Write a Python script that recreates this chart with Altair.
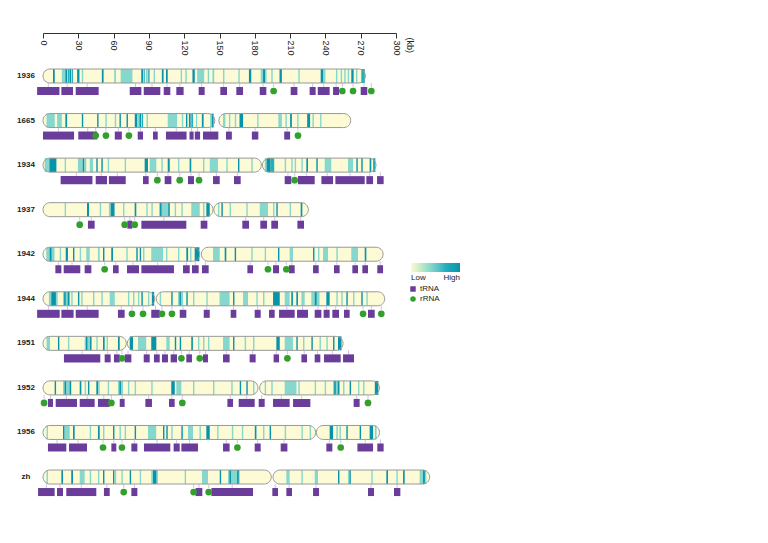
import altair as alt
import pandas as pd

rows = ['1936', '1665', '1934', '1937', '1942', '1944', '1951', '1952', '1956', 'zh']
axis_ticks = [0, 30, 60, 90, 120, 150, 180, 210, 240, 270, 300]

# chromosome segments (start kb, end kb)
seg_1936 = [(0, 274)]
seg_1665 = [(0, 146), (149.5, 261.5)]
seg_1934 = [(0, 185.6), (186.5, 283)]
seg_1937 = [(0, 144.5), (145.2, 225.5)]
seg_1942 = [(0, 133.2), (134.6, 289)]
seg_1944 = [(0, 95), (96.3, 290.4)]
seg_1951 = [(0, 70.8), (71.7, 255)]
seg_1952 = [(0, 182.7), (184.1, 286)]
seg_1956 = [(0, 231.7), (232.3, 286)]
seg_zh = [(0, 194), (195.5, 328.6)]

L, M, D = 0.4, 0.7, 1.0
# density bands (start kb, width kb, level)
bands_1936 = [(8.5,1.5,D),(16,3,L),(19,1.5,D),(21,1.2,M),(22.5,1.5,D),(24.5,1,M),(29,2,D),(33,1.2,L),(50,1.5,D),(60.5,1.5,L),(66,10,L),(83.5,1.5,D),(85.5,1,M),(87.5,1.5,L),(89.5,1,D),(94,1.2,L),(101,1.5,D),(104.5,1.5,D),(117,1.2,L),(121,1.2,L),(127,2,D),(131,6,L),(140,1.2,L),(144,1.5,L),(153,1.2,L),(166,1.2,L),(175,2,D),(185,2,L),(187,2,D),(189,1,L),(194,1.2,L),(201,2,D),(217,1.2,L),(236,2,D),(238,2,L),(249,1.2,L),(253,1.2,L),(256,1.2,L),(259,1.2,L),(262,2,D),(266,1.2,L),(270.5,3,M)]
bands_1665 = [(3,7,L),(12,4,L),(19,1.5,D),(33,1.2,D),(46,1.2,D),(53,1.2,L),(61,1.2,L),(65,1.2,D),(71,1.2,D),(78,2,D),(80,2,L),(82,1.5,D),(84,1,M),(88,1.2,L),(106,8,L),(118,1.2,L),(121.5,1.2,D),(124,1.5,D),(126,1.5,M),(130,1,L),(135,1.5,D),(142,1.5,L),(143.5,1.5,D),(153,2,L),(158,1.2,L),(163,1.2,L),(167,3,D),(182,1.2,L),(200,3,L),(206,1.2,L),(210,1.5,D),(216,1.2,L),(224.5,2.5,D),(229,1.2,L),(235.5,1.2,L)]
bands_1934 = [(1.4,4,L),(5.4,6,D),(18.4,1.2,L),(29.7,4,L),(33.7,1.5,D),(35.2,1.6,L),(39.7,2.8,L),(45.3,1.2,D),(49.6,1.2,D),(55,1.2,L),(69.4,1.2,L),(86.4,2.8,D),(90.7,5.6,L),(100.6,1.2,L),(106,1.7,D),(114.7,1.2,L),(124.6,1.4,D),(136,1.2,L),(141.7,7,L),(155.8,1.2,L),(165.7,1.2,D),(177,1.2,L),(188.5,1.5,L),(190,3.5,D),(193.5,3,M),(205.4,1.2,L),(211,1.2,L),(213.9,1.2,L),(219.6,1.2,L),(223.8,1.4,D),(232.3,1.2,D),(239.4,5.6,L),(259.2,4.3,L),(266.3,1.2,D),(270.5,1.2,D),(277.6,1.4,D),(280.5,2,M)]
bands_1937 = [(18.4,1.2,L),(37.4,1.7,D),(48.2,1.2,L),(56,1.5,L),(57.5,3.3,D),(68,1.2,L),(77.9,1.4,D),(87.8,1.2,L),(92.1,1.2,L),(98.6,9,L),(99.5,1.2,D),(106.5,1.2,D),(111.9,1.2,L),(117.6,1.2,L),(126,7.2,L),(136,1.2,L),(138.8,2.9,D),(148.7,1.2,L),(151.6,1.2,D),(158.6,1.2,L),(172.8,1.2,L),(184.2,7,L),(195.5,1.2,L),(198.3,1.2,D),(209.6,1.2,L),(219,1.4,D)]
bands_1942 = [(2.8,7,L),(5.7,1.5,D),(14.2,1.2,L),(19.3,1.9,D),(25.5,1.2,D),(31.2,1.2,L),(36.8,2.9,L),(46.7,1.5,L),(51,1.2,D),(58,1.5,D),(70.8,1.2,L),(79.3,1.2,D),(82.2,1.2,D),(85,1.2,L),(92,10,L),(104.5,1.2,L),(114.7,1.2,L),(121.8,1.5,D),(125,1.2,L),(128.9,4,D),(144.5,5.7,L),(154.4,1.4,D),(162.9,1.2,D),(177,1.2,L),(188.4,1.2,L),(199.7,1.2,D),(209.6,2.9,L),(229.5,1.2,D),(233.7,1.2,L),(238,4.2,L),(249.3,1.2,L),(262,5.7,L),(273.4,1.4,D)]
bands_1944 = [(5,2,L),(7,4,D),(11,1.5,L),(17,6,L),(18,1.3,D),(21,1.3,D),(24,1.2,L),(29.7,1.2,D),(32.5,1.2,L),(42.5,1.2,L),(49.6,1.2,L),(56.7,4.3,L),(72.2,1.2,L),(76.5,1.2,L),(80.7,1.2,L),(83.6,1.2,D),(89.2,1.2,L),(92.5,2,D),(99.2,1.2,L),(109,1.2,D),(114.7,4.3,L),(116,1.2,D),(121.8,1.2,D),(127.5,1.2,L),(138.8,1.2,L),(150,8.6,L),(161.5,1.2,D),(170,4.2,L),(181.3,1.2,L),(187,1.2,L),(195.5,5.7,D),(205.4,4.2,L),(211,1.4,D),(215.3,1.4,D),(219.6,2.8,L),(228,7,L),(231,1.5,D),(240.8,2.8,D),(249.3,1.2,L),(253.5,1.2,L),(257.8,1.2,D),(263.5,1.2,L),(270.5,1.2,D),(274.8,1.2,L)]
bands_1951 = [(3,3,L),(12.7,1.2,D),(21.2,1.2,L),(35.4,5.7,L),(36.5,1.2,D),(40,1.2,D),(45.3,1.2,L),(51,1.4,D),(54,1.2,L),(63.7,1.5,D),(73.7,2.8,D),(80.7,7,L),(92,4.3,D),(104.8,2.9,L),(112,1.2,D),(116.2,1.2,D),(126,1.4,D),(131.7,1.2,L),(136,1.2,L),(140.2,1.2,L),(153,5.6,L),(161.5,1.2,D),(171.4,1.2,L),(178.5,1.2,L),(198.3,2.9,D),(205.4,7,L),(215.3,1.2,D),(221,1.2,L),(228.1,1.2,D),(235,1.2,L),(240.8,1.2,L),(246.5,1.2,D),(250.7,3,D)]
bands_1952 = [(9.9,1.2,D),(17,7,L),(18.4,1.2,D),(22.7,1.2,D),(31.2,1.4,D),(35.4,1.2,L),(38.2,1.2,D),(45.3,1.5,D),(46.8,1.4,L),(55,1.2,L),(63.7,4.3,L),(65,1.2,D),(72.2,1.2,L),(77.9,1.2,L),(92,1.2,L),(109,3,D),(113.3,4.3,L),(127.5,1.2,L),(144.5,1.2,L),(160,1.2,L),(167.2,1.2,D),(172.8,1.2,D),(178.5,1.2,L),(188.4,1.2,L),(194,1.2,L),(205.4,10,L),(217,1.2,L),(230.9,1.2,L),(239.4,1.2,L),(246.5,5.6,L),(247.5,1.3,D),(250.5,1.3,D),(255,1.2,L),(260.6,1.2,D),(267.7,1.2,L),(272,1.2,L),(282,3,D)]
bands_1956 = [(3,1.2,L),(17,1.4,D),(18.4,4.3,L),(25.5,1.4,D),(39.7,1.2,L),(46.7,1.5,D),(51,1.2,L),(59.5,1.2,D),(65,1.2,L),(69.4,1.2,L),(77.9,1.2,D),(89.2,7,L),(102,1.2,D),(104.8,1.2,D),(109,1.2,L),(117.6,1.2,D),(123.2,4.3,L),(133,1.2,L),(138.8,2.9,D),(148,1.2,L),(160.5,1.2,L),(169,1.2,L),(180,1.4,D),(187,1.2,L),(192.6,1.2,D),(205.4,1.2,L),(219.6,1.2,L),(226.6,1.2,L),(243.6,2.9,D),(249.3,1.2,L),(252,1.2,L),(257.8,1.2,D),(269.1,1.2,D),(277.6,2.9,D),(282,1.5,L)]
bands_zh = [(3,1.2,L),(15.6,1.4,D),(24,1.5,D),(31.2,4.2,L),(39.7,1.2,L),(46.7,1.2,L),(51,1.2,D),(59.5,1.2,D),(61,1.2,L),(66.6,1.2,L),(73.7,1.2,D),(82.2,1.2,L),(92,5.7,L),(93.5,2.8,D),(120.4,1.2,L),(135.1,5.1,L),(150.2,1.2,D),(157.2,10,L),(158.5,1.3,D),(165,1.3,D),(206.8,2.8,L),(219.6,1.2,L),(230.9,2.8,L),(250.7,1.2,D),(259.2,1.2,L),(260.4,1.2,D),(279,1.2,L),(291.8,1.4,D),(300.3,1.2,L),(306,1.4,D),(320.1,5.7,L),(323,1.5,D)]

# tRNA genes / clusters (start kb, end kb)
trna_1936 = [(-5,14),(15.6,25.5),(27.8,47.3),(73.7,83.6),(85.6,99.7),(102.6,108.2),(113.3,119.5),(132.3,137.4),(150.7,156.4),(164.3,170),(184.2,189.8),(210.5,216.2),(226.6,231.7),(233.5,243.6),(246.5,251.6),(270,275.6)]
trna_1665 = [(0,26.4),(30,46),(61,67),(80.5,85),(93.5,97.5),(104.5,122),(124.5,128),(129,133.5),(136,149),(155.5,160.5),(177.5,183),(205,210)]
trna_1934 = [(15,42),(44.8,54.4),(56,70.3),(85,89.8),(103.4,109.1),(123.2,128.3),(144.5,150.2),(162.3,168),(205.4,211),(216.7,230.9),(236.6,246.5),(248.5,273.4),(274.8,280.5),(283.9,289.5)]
trna_1937 = [(38.2,43.9),(71.7,75.9),(83.6,121.8),(134,139.7),(169.4,175.1),(184.7,190.4),(194,199.7),(216.2,221.8)]
trna_1942 = [(10.5,15.6),(17.6,31.7),(35.4,41.1),(59.5,64.3),(71.4,81.6),(83.6,111.3),(119,124.7),(126.6,132.3),(135.1,140.8),(173.7,178.5),(195.5,200.6),(209,213.9),(229.5,234.3),(247.3,252.1),(262.9,267.7),(271.4,276.2),(284.1,289)]
trna_1944 = [(-5,14.2),(15.6,26),(27.8,47.3),(63.7,69.4),(92,99.2),(116.2,121.8),(136.6,141.7),(159.5,164.3),(179.9,185),(192.1,196.9),(200.6,213.9),(215.9,225.2),(230.9,236.6),(238.5,243.6),(245.9,251.6),(255.8,260.6),(276.2,281.9)]
trna_1951 = [(17.8,48.7),(52.4,57.5),(60.3,65.2),(69.4,75.1),(85.6,90.7),(94.3,99.2),(101.1,106.2),(108.5,113.9),(121.8,126.6),(136,140.2),(153,158.6),(175.6,180.7),(196,200.6),(219.6,224.4),(230.9,235.7),(238.8,253),(255,264.3)]
trna_1952 = [(4.2,8.5),(10.8,28.9),(31.2,43.9),(46.7,56.7),(65.2,69.4),(87,92.6),(107.1,111.9),(156.7,161.5),(166.3,179.9),(183.3,188.4),(195.5,209.6),(212.5,227.2),(264,269.1)]
trna_1956 = [(4.2,19.8),(22.1,37.4),(58.1,62.3),(75.1,80.2),(85.8,108.2),(111,116.2),(117.6,131.7),(153,158.6),(179.9,185),(202,207.7),(240.8,245.9),(267.2,280.5),(284.1,289.5)]
trna_zh = [(-4.2,9.9),(11.9,17),(19.8,45.3),(51.8,56.7),(75.1,80.2),(129.7,135.4),(143.1,178.5),(194.9,199.7),(206.8,211.6),(229.5,234.6),(276.2,281.3),(298.3,303.7)]

# rRNA genes (position kb)
rrna_1936 = [196, 254.4, 263.5, 279]
rrna_1665 = [44.8, 53.5, 73, 216.7]
rrna_1934 = [97.2, 116.2, 132.6, 213.9]
rrna_1937 = [31.2, 69.4, 77.9]
rrna_1942 = [52.4, 191.2, 206.8]
rrna_1944 = [75.6, 85, 101.1, 109.6, 272, 287.5]
rrna_1951 = [67.1, 117.6, 133.2, 207.7]
rrna_1952 = [0.9, 58.1, 118.4, 276.2]
rrna_1956 = [51, 67.1, 165.2, 253]
rrna_zh = [68.6, 128, 140.8]

seg_sets = [seg_1936, seg_1665, seg_1934, seg_1937, seg_1942, seg_1944, seg_1951, seg_1952, seg_1956, seg_zh]
band_sets = [bands_1936, bands_1665, bands_1934, bands_1937, bands_1942, bands_1944, bands_1951, bands_1952, bands_1956, bands_zh]
trna_sets = [trna_1936, trna_1665, trna_1934, trna_1937, trna_1942, trna_1944, trna_1951, trna_1952, trna_1956, trna_zh]
rrna_sets = [rrna_1936, rrna_1665, rrna_1934, rrna_1937, rrna_1942, rrna_1944, rrna_1951, rrna_1952, rrna_1956, rrna_zh]

# layout in row units (one row = ~44.6 px)
CH = 0.157   # half chromosome height
MY = 0.337   # marker centre offset
MH = 0.09    # half marker height

seg_df, band_df, trna_df, rrna_df, stem_df = [], [], [], [], []
for i, name in enumerate(rows):
    for s, e in seg_sets[i]:
        seg_df.append(dict(start=s, end=e, y0=i - CH, y1=i + CH))
    for s, w, lv in band_sets[i]:
        band_df.append(dict(start=s, end=s + w, y0=i - CH, y1=i + CH, level=lv))
    for s, e in trna_sets[i]:
        trna_df.append(dict(start=s, end=e, y0=i + MY - MH, y1=i + MY + MH, type='tRNA'))
        stem_df.append(dict(start=(s + e) / 2, y0=i + CH, y1=i + MY - MH))
    for p in rrna_sets[i]:
        rrna_df.append(dict(start=p, y0=i + MY, type='rRNA'))
        stem_df.append(dict(start=p, y0=i + CH, y1=i + MY - MH))
seg_df = pd.DataFrame(seg_df)
band_df = pd.DataFrame(band_df)
trna_df = pd.DataFrame(trna_df)
rrna_df = pd.DataFrame(rrna_df)
stem_df = pd.DataFrame(stem_df)
label_df = pd.DataFrame(dict(name=rows, row=list(range(len(rows)))))

W, H = 353, 477
xscale = alt.Scale(domain=[0, 300], nice=False, zero=False)
yscale = alt.Scale(domain=[-0.965, 9.74], reverse=True, nice=False, zero=False)
xaxis = alt.Axis(orient='bottom', offset=-H, values=axis_ticks, labelAngle=90, labelFontSize=9,
                 labelPadding=2, tickSize=5, tickColor='#333', domainColor='#333', labelColor='#222',
                 grid=False, title='(kb)', titleAngle=90, titleX=366, titleY=4, titleAlign='left',
                 titleBaseline='middle', titleFontSize=9, titleFontWeight='normal', titleColor='#222')

def X(f):
    return alt.X(f, type='quantitative', scale=xscale, axis=xaxis)

def Y(f):
    return alt.Y(f, type='quantitative', scale=yscale, axis=None)

type_scale = alt.Scale(domain=['tRNA', 'rRNA'], range=['#6a3d9a', '#33a02c'])
shape_scale = alt.Scale(domain=['tRNA', 'rRNA'], range=['square', 'circle'])
type_legend = alt.Legend(orient='none', legendX=366, legendY=252, title=None, labelFontSize=8,
                         symbolSize=30, rowPadding=2, labelColor='#222', labelOffset=3)

base_seg = alt.Chart(seg_df).mark_rect(cornerRadius=7, color='#fdfbd6').encode(
    x=X('start'), x2='end', y=Y('y0'), y2='y1')

bands = alt.Chart(band_df).mark_rect().encode(
    x=X('start'), x2='end', y=Y('y0'), y2='y1',
    fill=alt.Fill('level:Q',
                  scale=alt.Scale(domain=[0, 0.4, 0.7, 1.0],
                                  range=['#fdfbd6', '#86d7ce', '#22b0bf', '#0993ab']),
                  legend=alt.Legend(orient='none', legendX=368, legendY=230, direction='horizontal',
                                    gradientLength=49, gradientThickness=9, title=None,
                                    values=[0, 1], labelExpr="datum.value < 0.5 ? 'Low' : 'High'",
                                    labelFontSize=8, labelColor='#222', gradientStrokeWidth=0)))

outline = alt.Chart(seg_df).mark_rect(cornerRadius=7, filled=False, stroke='#999999',
                                      strokeWidth=1).encode(
    x=X('start'), x2='end', y=Y('y0'), y2='y1')

stems = alt.Chart(stem_df).mark_rule(color='#c4b3df', strokeWidth=0.8).encode(
    x=X('start'), y=Y('y0'), y2='y1')

trna = alt.Chart(trna_df).mark_rect().encode(
    x=X('start'), x2='end', y=Y('y0'), y2='y1',
    color=alt.Color('type:N', scale=type_scale, legend=type_legend))

rrna = alt.Chart(rrna_df).mark_point(filled=True, size=45, opacity=1).encode(
    x=X('start'), y=Y('y0'),
    color=alt.Color('type:N', scale=type_scale, legend=type_legend),
    shape=alt.Shape('type:N', scale=shape_scale, legend=type_legend))

labels = alt.Chart(label_df).mark_text(fontSize=8, fontWeight='bold', align='center',
                                       baseline='middle', color='#222').encode(
    x=alt.value(-17), y=Y('row'), text='name:N')

chart = alt.layer(base_seg, bands, outline, stems, trna, rrna, labels).properties(
    width=W, height=H,
    autosize=alt.AutoSizeParams(type='none'),
    padding={'left': 35, 'top': 25, 'right': 364, 'bottom': 25}
).configure(font='Liberation Sans').configure_view(stroke=None)

chart.save("out.html", embed_options={"renderer": "svg", "actions": False})
